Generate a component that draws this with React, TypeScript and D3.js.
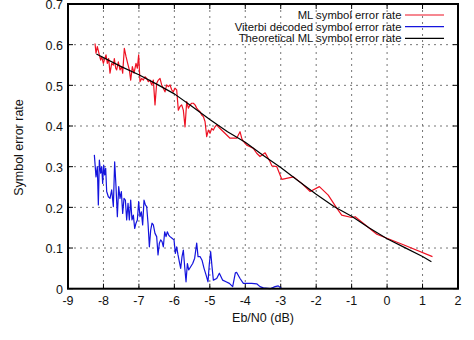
import React from "react";
import * as d3 from "d3";

const xTickValues = [-9, -8, -7, -6, -5, -4, -3, -2, -1, 0, 1, 2];
const yTickValues = [0, 0.1, 0.2, 0.3, 0.4, 0.5, 0.6, 0.7];
const yTickLabels = ["0", "0.1", "0.2", "0.3", "0.4", "0.5", "0.6", "0.7"];
const xLabel = "Eb/N0 (dB)";
const yLabel = "Symbol error rate";
const seriesNames = ["ML symbol error rate", "Viterbi decoded symbol error rate", "Theoretical ML symbol error rate"];

const mlX = [
  -8.238, -8.21, -8.173, -8.116, -8.079, -8.05, -8.003, -7.975, -7.928, -7.89, -7.853, -7.815, -7.768, -7.721,
  -7.693, -7.655, -7.627, -7.58, -7.533, -7.486, -7.458, -7.411, -7.364, -7.317, -7.27, -7.232, -7.185, -7.138,
  -7.082, -7.044, -7.007, -6.969, -6.922, -6.875, -6.828, -6.781, -6.734, -6.687, -6.64, -6.593, -6.546, -6.499,
  -6.452, -6.405, -6.358, -6.311, -6.264, -6.217, -6.17, -6.123, -6.076, -6.029, -5.982, -5.935, -5.888, -5.841,
  -5.794, -5.747, -5.699, -5.652, -5.605, -5.558, -5.511, -5.464, -5.417, -5.37, -5.323, -5.276, -5.229, -5.182,
  -5.135, -5.088, -5.041, -4.994, -4.947, -4.9, -4.853, -4.806, -4.759, -4.712, -4.618, -4.524, -4.43, -4.336,
  -4.242, -4.148, -4.101, -4.054, -3.96, -3.866, -3.772, -3.678, -3.584, -3.44, -3.3, -3.25, -3.11, -2.97,
  -2.64, -2.41, -2.17, -1.91, -1.66, -1.42, -1.28, -1.0, -0.9, -0.29, 0.46, 1.28,
];
const mlY = [
  0.603, 0.579, 0.595, 0.575, 0.562, 0.571, 0.554, 0.562, 0.575, 0.554, 0.566, 0.53, 0.554, 0.55,
  0.566, 0.542, 0.538, 0.558, 0.538, 0.546, 0.53, 0.591, 0.571, 0.554, 0.538, 0.513, 0.546, 0.53,
  0.554, 0.542, 0.575, 0.509, 0.517, 0.513, 0.521, 0.517, 0.509, 0.513, 0.501, 0.513, 0.452, 0.505,
  0.513, 0.517, 0.501, 0.493, 0.484, 0.501, 0.497, 0.501, 0.489, 0.484, 0.493, 0.489, 0.439, 0.448,
  0.452, 0.439, 0.398, 0.46, 0.444, 0.452, 0.456, 0.456, 0.452, 0.444, 0.439, 0.435, 0.427, 0.423,
  0.411, 0.374, 0.39, 0.382, 0.394, 0.39, 0.398, 0.403, 0.398, 0.394, 0.386, 0.378, 0.37, 0.37,
  0.37, 0.386, 0.37, 0.362, 0.353, 0.349, 0.345, 0.333, 0.325, 0.334, 0.312, 0.302, 0.3, 0.269,
  0.275, 0.259, 0.239, 0.251, 0.23, 0.198, 0.181, 0.175, 0.177, 0.134, 0.108, 0.079,
];

const viterbiX = [
  -8.257, -8.21, -8.173, -8.144, -8.116, -8.079, -8.05, -8.022, -7.994, -7.965, -7.937, -7.909, -7.862, -7.815,
  -7.768, -7.721, -7.684, -7.646, -7.608, -7.57, -7.533, -7.495, -7.458, -7.42, -7.382, -7.345, -7.307, -7.27,
  -7.232, -7.195, -7.157, -7.119, -7.082, -7.044, -7.007, -6.969, -6.931, -6.894, -6.856, -6.818, -6.781, -6.743,
  -6.705, -6.668, -6.63, -6.593, -6.546, -6.499, -6.461, -6.423, -6.386, -6.348, -6.311, -6.273, -6.235, -6.198,
  -6.16, -6.123, -6.066, -6.01, -5.972, -5.935, -5.897, -5.859, -5.822, -5.784, -5.747, -5.709, -5.671, -5.633,
  -5.596, -5.54, -5.483, -5.427, -5.37, -5.332, -5.276, -5.22, -5.163, -5.107, -5.051, -5.013, -4.976, -4.938,
  -4.9, -4.806, -4.731, -4.637, -4.543, -4.449, -4.355, -4.28, -4.242, -4.148, -4.054, -3.96, -3.819, -3.678,
  -3.584, -3.49, -3.3, -3.16, -3.07, -2.97,
];
const viterbiY = [
  0.329, 0.275, 0.3, 0.206, 0.316, 0.284, 0.3, 0.259, 0.304, 0.28, 0.296, 0.239, 0.226, 0.222,
  0.243, 0.202, 0.312, 0.251, 0.177, 0.251, 0.222, 0.239, 0.185, 0.222, 0.218, 0.169, 0.21, 0.169,
  0.218, 0.169, 0.181, 0.148, 0.161, 0.169, 0.214, 0.177, 0.189, 0.157, 0.218, 0.206, 0.202, 0.161,
  0.103, 0.144, 0.161, 0.157, 0.136, 0.128, 0.083, 0.112, 0.12, 0.116, 0.103, 0.14, 0.128, 0.14,
  0.132, 0.128, 0.124, 0.12, 0.087, 0.103, 0.083, 0.066, 0.05, 0.079, 0.095, 0.054, 0.017, 0.062,
  0.046, 0.054, 0.062, 0.075, 0.112, 0.079, 0.079, 0.07, 0.05, 0.034, 0.017, 0.062, 0.091, 0.054,
  0.021, 0.025, 0.038, 0.021, 0.017, 0.013, 0.005, 0.039, 0.04, 0.025, 0.013, 0.013, 0.013, 0.012,
  0.005, 0.002, 0.0, 0.005, 0.007, 0.0,
];

const theoX = [-8.2, -7.5, -7, -6.5, -6, -5.5, -5, -4.5, -4, -3.5, -3, -2.5, -2, -1.5, -1, -0.5, 0, 0.5, 1, 1.25];
const theoY = [0.577, 0.546, 0.526, 0.503, 0.479, 0.448, 0.416, 0.386, 0.36, 0.328, 0.298, 0.265, 0.232, 0.202, 0.178, 0.149, 0.123, 0.101, 0.079, 0.066];

const colors = ["#ee1122", "#1414dd", "#000000"];

export default function App() {
  const W = 474, H = 340;
  const left = 68, right = 458, top = 4, bottom = 288.7;
  const x = d3.scaleLinear().domain([-9, 2]).range([left, right]);
  const y = d3.scaleLinear().domain([0, 0.7]).range([bottom, top]);
  const line = d3.line<[number, number]>().x((d) => x(d[0])).y((d) => y(d[1]));
  const zip = (a: number[], b: number[]) => a.map((v, i) => [v, b[i]] as [number, number]);
  const series = [zip(mlX, mlY), zip(viterbiX, viterbiY), zip(theoX, theoY)];
  const font = "'Liberation Sans', Arial, sans-serif";
  const tick = 5;
  return (
    <svg width={W} height={H} style={{ position: "absolute", left: 0, top: 0, background: "#fff" }} fontFamily={font}>
      <rect x={0} y={0} width={W} height={H} fill="#fff" />
      {/* grid */}
      <g stroke="#555" strokeWidth={1} strokeDasharray="2,4" opacity={0.8}>
        {xTickValues.slice(1, -1).map((t) => (
          <line key={"gx" + t} x1={x(t)} x2={x(t)} y1={top} y2={bottom} />
        ))}
        {yTickValues.slice(1, -1).map((t) => (
          <line key={"gy" + t} x1={left} x2={right} y1={y(t)} y2={y(t)} />
        ))}
      </g>
      {/* ticks */}
      <g stroke="#000" strokeWidth={1}>
        {xTickValues.map((t) => (
          <g key={"tx" + t}>
            <line x1={x(t)} x2={x(t)} y1={bottom} y2={bottom - tick} />
            <line x1={x(t)} x2={x(t)} y1={top} y2={top + tick} />
          </g>
        ))}
        {yTickValues.map((t) => (
          <g key={"ty" + t}>
            <line x1={left} x2={left + tick} y1={y(t)} y2={y(t)} />
            <line x1={right} x2={right - tick} y1={y(t)} y2={y(t)} />
          </g>
        ))}
      </g>
      {/* data */}
      {series.map((s, i) => (
        <path key={"s" + i} d={line(s) || ""} fill="none" stroke={colors[i]} strokeWidth={1.2} strokeLinejoin="round" />
      ))}
      {/* frame */}
      <rect x={left} y={top} width={right - left} height={bottom - top} fill="none" stroke="#000" strokeWidth={2} />
      {/* tick labels */}
      <g fontSize={12.5} fill="#111">
        {xTickValues.map((t) => (
          <text key={"lx" + t} x={x(t)} y={305} textAnchor="middle">{String(t)}</text>
        ))}
        {yTickValues.map((t, i) => (
          <text key={"ly" + t} x={63} y={y(t) + 5.2} textAnchor="end">{yTickLabels[i]}</text>
        ))}
      </g>
      {/* axis labels */}
      <text x={263} y={322} textAnchor="middle" fontSize={12.5} fill="#111">{xLabel}</text>
      <text transform="translate(23,147.5) rotate(-90)" textAnchor="middle" fontSize={12.5} fill="#111">{yLabel}</text>
      {/* legend */}
      {seriesNames.map((n, i) => (
        <g key={"lg" + i}>
          <text x={401.5} y={15 + i * 11.7 + 4} textAnchor="end" fontSize={11.3} fill="#111">{n}</text>
          <line x1={405} x2={444} y1={15 + i * 11.7} y2={15 + i * 11.7} stroke={colors[i]} strokeWidth={1.2} />
        </g>
      ))}
    </svg>
  );
}
